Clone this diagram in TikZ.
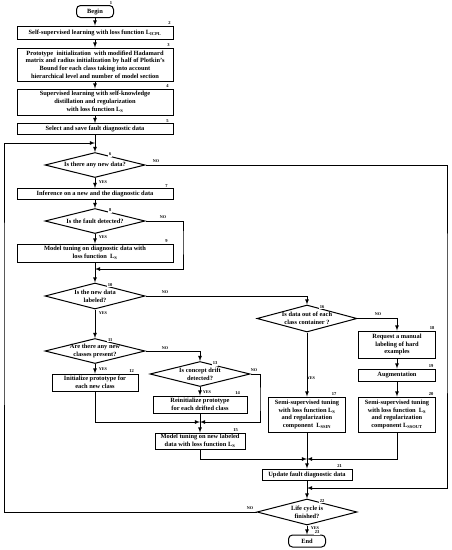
\documentclass[tikz,border=0pt]{standalone}
\usepackage{fontspec}
\setmainfont{Liberation Serif}
\usetikzlibrary{shapes.geometric,calc}

\begin{document}
\begin{tikzpicture}[x=1pt, y=-1pt, >=latex, line width=0.8pt,
        every node/.style={font=\bfseries\fontsize{6.4}{7.8}\selectfont, inner sep=0.5pt},
        process/.style={draw, line width=1pt, align=center, minimum width=156pt, minimum height=11pt},
        terminal/.style={draw, line width=1pt, rounded corners=4pt, minimum width=37pt, minimum height=12pt},
        decision/.style={diamond, draw, line width=1pt, minimum width=100pt, minimum height=25pt, inner sep=0pt},
        dtext/.style={align=center, inner sep=0pt},
        yn/.style={font=\bfseries\fontsize{4.2}{4.2}\selectfont},
        num/.style={font=\bfseries\fontsize{4.5}{4.5}\selectfont, fill=white, inner sep=0.6pt}]
        \useasboundingbox (0,0) rectangle (451,550);

        \node[terminal] (start) at (95,11.5) {Begin};
        \node[process, minimum height=13pt] (b2) at (95,32.5) {Self-supervised learning with loss function L\textsubscript{ICPL}};
        \node[process, minimum height=33pt] (b3) at (95,64.5) {Prototype\ \ initialization\ \ with modified Hadamard\\matrix and radius initialization by half of Plotkin's\\Bound for each class taking into account\\hierarchical level and number of model section};
        \node[process, minimum height=26pt] (b4) at (95,102) {Supervised learning with self-knowledge\\distillation and regularization\\with loss function L\textsubscript{S}};
        \node[process] (b5) at (95,129) {Select and save fault diagnostic data};
        \coordinate (j5) at (95,143);
        \node[decision, label={[dtext]center:Is there any new data?}] (d6) at (95,165) {};
        \node[process] (b7) at (95,194) {Inference on a new and the diagnostic data};
        \node[decision, label={[dtext]center:Is the fault detected?}] (d8) at (95,221) {};
        \coordinate (c8) at (183,240);
        \node[process, minimum height=18pt] (b9) at (95,253) {Model tuning on diagnostic data with\\loss function\ \ L\textsubscript{S}};
        \coordinate (j9) at (95,269);
        \node[decision, minimum height=26pt, label={[dtext]center:Is the new data\\labeled?}] (d10) at (95,296) {};
        \node[decision, label={[dtext]center:Are there any new\\classes present?}] (d11) at (95,351) {};
        \node[process, minimum width=86pt, minimum height=17pt] (b12) at (95,382.5) {Initialize prototype for\\each new class};
        \node[decision, label={[dtext]center:Is concept drift\\detected?}] (d13) at (200,374) {};
        \coordinate (c13) at (260,400);
        \node[process, minimum width=94pt, minimum height=17pt] (b14) at (200,404.5) {Reinitialize prototype\\for each drifted class};
        \coordinate (j12) at (200,422);
        \node[process, minimum width=90pt, minimum height=16pt] (b15) at (200,441) {Model tuning on new labeled\\data with loss function L\textsubscript{S}};
        \node[decision, minimum height=27pt, label={[dtext]center:Is data out of each\\class container ?}] (d16) at (307,318.5) {};
        \node[process, minimum width=77pt, minimum height=35pt] (b17) at (307,414.5) {Semi-supervised tuning\\with loss function L\textsubscript{S}\\and regularization\\component\ \ L\textsubscript{SSIN}};
        \node[process, minimum width=77pt, minimum height=27pt] (b18) at (397,344.5) {Request a manual\\labeling of hard\\examples};
        \node[process, minimum width=77pt, minimum height=12pt] (b19) at (397,375) {Augmentation};
        \node[process, minimum width=77pt, minimum height=35pt] (b20) at (397,414.5) {Semi-supervised tuning\\with loss function\ \ L\textsubscript{S}\\and regularization\\component L\textsubscript{SSOUT}};
        \coordinate (j21) at (307,459);
        \node[process, minimum width=90pt] (b21) at (307,474.5) {Update fault diagnostic data};
        \coordinate (j22) at (307,488);
        \node[decision, minimum height=26pt, label={[dtext]center:Life cycle is\\finished?}] (d22) at (307,512) {};
        \node[terminal] (stop) at (307,541) {End};
        \coordinate (loopL) at (4,300);
        \coordinate (loopR) at (447,300);

        \draw[->] (start) -- (b2);
        \draw[->] (b2) -- (b3);
        \draw[->] (b3) -- (b4);
        \draw[->] (b4) -- (b5);
        \draw[->] (b5) -- (d6);
        \draw[->] (d6) -- (b7);
        \draw[->] (b7) -- (d8);
        \draw[->] (d8) -- (b9);
        \draw[->] (b9) -- (d10);
        \draw[->] (d8.east) -| (c8) |- (j9);
        \draw[->] (d10) -- (d11);
        \draw[->] (d10.east) -| (d16.north);
        \draw[->] (d11) -- (b12);
        \draw[->] (d11.east) -| (d13.north);
        \draw[->] (d13) -- (b14);
        \draw[->] (b14) -- (b15);
        \draw[->] (b12) |- (j12);
        \draw[->] (d13.east) -| (c13) |- (j12);
        \draw[->] (b15) |- (j21);
        \draw[->] (d16) -- (b17);
        \draw[->] (d16.east) -| (b18);
        \draw[->] (b18) -- (b19);
        \draw[->] (b19) -- (b20);
        \draw[->] (b17) -- (b21);
        \draw[->] (b20) |- (j21);
        \draw[->] (b21) -- (d22);
        \draw[->] (d22) -- (stop);
        \draw[->] (d6.east) -| (loopR) |- (j22);
        \draw[->] (d22.west) -| (loopL) |- (j5);

        \node[yn] (no6) at (156,161) {NO};
        \node[yn] (yes6) at (103,182) {YES};
        \node[yn] (no8) at (163,217) {NO};
        \node[yn] (yes8) at (103,237.5) {YES};
        \node[yn] (no10) at (165,292) {NO};
        \node[yn] (yes10) at (103,313) {YES};
        \node[yn] (no11) at (165,348) {NO};
        \node[yn] (yes11) at (103,369) {YES};
        \node[yn] (no13) at (254,370) {NO};
        \node[yn] (yes13) at (207,392) {YES};
        \node[yn] (no16) at (378,314) {NO};
        \node[yn] (yes16) at (311,378) {YES};
        \node[yn] (no22) at (250,508) {NO};
        \node[yn] (yes22) at (315,528) {YES};

        \foreach \b/\n/\dx in {start/1/3, b2/2/4, b3/3/5, b4/4/6, b5/5/6, b7/7/7, b9/9/7, b12/12/7, b14/14/10, b15/15/10, b17/17/12, b18/18/4, b19/19/5, b20/20/5, b21/21/13, stop/23/9}
            \node[num] (n\n) at ([xshift=-\dx pt, yshift=2pt]\b.north east) {\n};
        \foreach \d/\n in {d6/6, d8/8, d10/10, d11/11, d13/13, d16/16, d22/22}
            \node[num] (n\n) at ([yshift=1.5pt]$(\d.north)!0.3!(\d.east)$) {\n};
\end{tikzpicture}
\end{document}
